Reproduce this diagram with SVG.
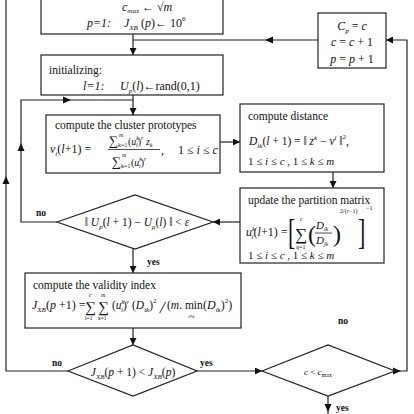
<svg xmlns="http://www.w3.org/2000/svg" width="414" height="414" viewBox="0 0 414 414">
<style>
text{font-family:"Liberation Serif","Times New Roman",serif;fill:#111;font-size:12px}
.i{font-style:italic}
.s{font-size:7px}
.u{font-size:6px}
.t{font-size:11.5px}
.lb{font-weight:bold;font-size:9.5px}
.box{fill:#fff;stroke:#222;stroke-width:1.2}
.ln{fill:none;stroke:#222;stroke-width:1.2}
.ah{fill:#111}
</style>
<defs>
<marker id="arr" viewBox="0 0 10 10" refX="10" refY="5" markerWidth="7" markerHeight="7" markerUnits="userSpaceOnUse" orient="auto"><path d="M0,0 L10,5 L0,10 z" fill="#111"/></marker>
</defs>
<rect width="414" height="414" fill="#fff"/>

<g id="connectors">
<line class="ln" x1="133" y1="34" x2="133" y2="55" marker-end="url(#arr)"/>
<polyline class="ln" points="318,40 133,40"/>
<polygon class="ah" points="265,40 273,36.5 273,43.5"/>
<polyline class="ln" points="395,371 407,371 407,40 386,40" marker-end="url(#arr)"/>
<polygon class="ah" points="401,371 393,367.5 393,374.5"/>
<line class="ln" x1="133" y1="95" x2="133" y2="115" marker-end="url(#arr)"/>
<polyline class="ln" points="57,222 21,222 21,100 133,100"/>
<polygon class="ah" points="21,143 17.5,151 24.5,151"/>
<polygon class="ah" points="71,100 63,96.5 63,103.5"/>
<line class="ln" x1="220" y1="142" x2="240" y2="142" marker-end="url(#arr)"/>
<line class="ln" x1="333" y1="172" x2="333" y2="188" marker-end="url(#arr)"/>
<line class="ln" x1="240" y1="222" x2="213" y2="222" marker-end="url(#arr)"/>
<line class="ln" x1="133" y1="249" x2="133" y2="273" marker-end="url(#arr)"/>
<line class="ln" x1="133" y1="328" x2="133" y2="345" marker-end="url(#arr)"/>
<polyline class="ln" points="68,371 6,371 6,0"/>
<polygon class="ah" points="6,176 2.5,184 9.5,184"/>
<line class="ln" x1="197" y1="371" x2="262" y2="371" marker-end="url(#arr)"/>
<line class="ln" x1="328" y1="396" x2="328" y2="414"/>
<polygon class="ah" points="328,412 324.5,404 331.5,404"/>
<text class="lb" x="36" y="216">no</text>
<text class="lb" x="147" y="265">yes</text>
<text class="lb" x="52" y="366">no</text>
<text class="lb" x="200" y="366">yes</text>
<text class="lb" x="338" y="324">no</text>
<text class="lb" x="336" y="411">yes</text>
</g>

<g id="init-top">
<rect class="box" x="41" y="-2" width="182" height="36"/>
<text x="122" y="11"><tspan class="i">c</tspan><tspan class="s i" dy="2">max</tspan><tspan dy="-2"> ← √</tspan><tspan class="i">m</tspan></text>
<text class="i" x="87" y="27">p=1:</text>
<text x="124" y="27"><tspan class="i">J</tspan><tspan class="s i" dy="2.5">XB</tspan><tspan dy="-2.5"> (</tspan><tspan class="i">p</tspan>)← 10<tspan class="s" dy="-6">6</tspan></text>
</g>

<g id="cp-box">
<rect class="box" x="318" y="13" width="68" height="55"/>
<text x="352" y="30" text-anchor="middle"><tspan class="i">C</tspan><tspan class="s i" dy="2.5">p</tspan><tspan dy="-2.5"> = </tspan><tspan class="i">c</tspan></text>
<text x="352" y="46" text-anchor="middle"><tspan class="i">c</tspan> = <tspan class="i">c</tspan> + 1</text>
<text x="352" y="63" text-anchor="middle"><tspan class="i">p</tspan> = <tspan class="i">p</tspan> + 1</text>
</g>

<g id="initializing">
<rect class="box" x="41" y="55" width="182" height="40"/>
<text class="t" x="49" y="74">initializing:</text>
<text class="i" x="83" y="90">l=1:</text>
<text x="120" y="90"><tspan class="i">U</tspan><tspan class="s i" dy="2.5">p</tspan><tspan dy="-2.5">(</tspan><tspan class="i">l</tspan>)←rand(0,1)</text>
</g>

<g id="cluster-prototypes">
<rect class="box" x="46" y="115" width="174" height="58"/>
<text class="t" x="55" y="128.5">compute the cluster prototypes</text>
<text x="50" y="153"><tspan class="i">v</tspan><tspan class="s i" dy="2.5">i</tspan><tspan dy="-2.5">(</tspan><tspan class="i">l</tspan>+1) =</text>
<line class="ln" x1="108" y1="149.5" x2="160" y2="149.5" style="stroke-width:0.8"/>
<text x="109" y="145" style="font-size:13px">∑</text>
<text class="u i" x="119" y="136.5">m</text><text class="u" x="118" y="147">k=1</text>
<text x="128" y="145" style="font-size:10px">(<tspan class="i">u</tspan><tspan class="u i" dy="-5">k</tspan><tspan class="u i" dx="-3" dy="7">i</tspan><tspan dy="-2">)</tspan><tspan class="u i" dy="-5">r</tspan><tspan dy="5"> </tspan><tspan class="i">z</tspan><tspan class="u i" dy="2">k</tspan></text>
<text x="112" y="166" style="font-size:13px">∑</text>
<text class="u i" x="122" y="157">m</text><text class="u" x="121" y="168">k=1</text>
<text x="131" y="166" style="font-size:10px">(<tspan class="i">u</tspan><tspan class="u i" dy="-5">k</tspan><tspan class="u i" dx="-3" dy="7">i</tspan><tspan dy="-2">)</tspan><tspan class="u i" dy="-5">r</tspan></text>
<text x="161" y="154">,</text>
<text x="178" y="154">1 ≤ <tspan class="i">i</tspan> ≤ <tspan class="i">c</tspan></text>
</g>

<g id="compute-distance">
<rect class="box" x="240" y="104" width="144" height="68"/>
<text class="t" x="248" y="120">compute distance</text>
<text x="249" y="145" style="font-size:11.5px"><tspan class="i">D</tspan><tspan class="s i" dy="3">ik</tspan><tspan dy="-3">(</tspan><tspan class="i">l</tspan> + 1) = ‖ <tspan class="i">z</tspan><tspan class="s i" dy="-5">k</tspan><tspan dy="5"> − </tspan><tspan class="i">v</tspan><tspan class="s i" dy="-5">i</tspan><tspan dy="5"> ‖</tspan><tspan class="s" dy="-6">2</tspan><tspan dy="6">,</tspan></text>
<text x="248" y="165" style="font-size:11px">1 ≤ <tspan class="i">i</tspan> ≤ <tspan class="i">c</tspan>  ,  1 ≤ <tspan class="i">k</tspan> ≤ <tspan class="i">m</tspan></text>
</g>

<g id="update-partition">
<rect class="box" x="240" y="188" width="144" height="75"/>
<text class="t" x="248" y="204">update the partition matrix</text>
<text x="246" y="236"><tspan class="i">u</tspan><tspan class="s i" dy="-5">k</tspan><tspan class="s i" dx="-3.5" dy="8">i</tspan><tspan dy="-3">(</tspan><tspan class="i">l</tspan>+1) =</text>
<text transform="translate(288,244) scale(1,1.65)" style="font-size:22px">[</text>
<text x="295" y="240" style="font-size:17px">∑</text>
<text class="u i" x="300" y="221">c</text>
<text class="u" x="296" y="249">q=1</text>
<text x="308" y="242" style="font-size:24px">(</text>
<line class="ln" x1="315" y1="233" x2="332" y2="233" style="stroke-width:0.8"/>
<text x="316" y="229" style="font-size:11px"><tspan class="i">D</tspan><tspan class="u i" dy="2">ik</tspan></text>
<text x="316" y="244" style="font-size:11px"><tspan class="i">D</tspan><tspan class="u i" dy="2">jk</tspan></text>
<text x="333" y="242" style="font-size:24px">)</text>
<text class="u" x="340" y="213">2/(<tspan class="i">r</tspan>−1)</text>
<text transform="translate(358,244) scale(1,1.65)" style="font-size:22px">]</text>
<text class="u" x="366" y="210">−1</text>
<text x="248" y="259" style="font-size:11px">1 ≤ <tspan class="i">i</tspan> ≤ <tspan class="i">c</tspan>  ,  1 ≤ <tspan class="i">k</tspan> ≤ <tspan class="i">m</tspan></text>
</g>

<g id="convergence-test">
<polygon class="box" points="57,222 135,195 213,222 135,249"/>
<text x="137" y="226" text-anchor="middle" style="font-size:11.5px">‖ <tspan class="i">U</tspan><tspan class="s i" dy="3">p</tspan><tspan dy="-3">(</tspan><tspan class="i">l</tspan> + 1) − <tspan class="i">U</tspan><tspan class="s i" dy="3">ρ</tspan><tspan dy="-3">(</tspan><tspan class="i">l</tspan>) ‖ &lt; <tspan class="i">ε</tspan></text>
</g>

<g id="validity-index">
<rect class="box" x="25" y="273" width="216" height="55"/>
<text class="t" x="33" y="289">compute the validity index</text>
<text x="32" y="309" style="font-size:12px"><tspan class="i">J</tspan><tspan class="s i" dy="3">XB</tspan><tspan dy="-3">(</tspan><tspan class="i">p</tspan> +1) =</text>
<text x="85" y="312" style="font-size:15px">∑</text><text class="u i" x="89" y="296.5">c</text><text class="u" x="85" y="320" style="font-size:5.5px">i=1</text>
<text x="98" y="312" style="font-size:15px">∑</text><text class="u i" x="101" y="296.5">m</text><text class="u" x="98" y="320" style="font-size:5.5px">k=1</text>
<text x="112" y="309" style="font-size:11.5px">(<tspan class="i">u</tspan><tspan class="u i" dy="-5">k</tspan><tspan class="u i" dx="-3" dy="8">i</tspan><tspan dy="-3">)</tspan><tspan class="u i" dy="-5">r</tspan><tspan dy="5">  (</tspan><tspan class="i">D</tspan><tspan class="s i" dy="2.5">ik</tspan><tspan dy="-2.5">)</tspan><tspan class="s" dy="-6">2</tspan></text>
<text x="160" y="313" style="font-size:17px" class="i">/</text>
<text x="167" y="309" style="font-size:11.5px">(<tspan class="i">m</tspan>. min</text><text class="u i" x="188" y="318" style="font-size:5px">i≠k</text>
<text x="203" y="309" style="font-size:12px">(<tspan class="i">D</tspan><tspan class="s i" dy="2.5">ik</tspan><tspan dy="-2.5">)</tspan><tspan class="s" dy="-6">2</tspan><tspan dy="6">)</tspan></text>
</g>

<g id="improvement-test">
<polygon class="box" points="68,371 133,345 197,371 133,396"/>
<text x="133" y="376" text-anchor="middle" style="font-size:11.5px"><tspan class="i">J</tspan><tspan class="s i" dy="3">XB</tspan><tspan dy="-3">(</tspan><tspan class="i">p</tspan> + 1) &lt; <tspan class="i">J</tspan><tspan class="s i" dy="3">XB</tspan><tspan dy="-3">(</tspan><tspan class="i">p</tspan>)</text>
</g>

<g id="cluster-count-test">
<polygon class="box" points="262,371 328,345 395,371 328,396"/>
<text x="318" y="375" text-anchor="middle" style="font-size:9px"><tspan class="i">c</tspan> &lt; <tspan class="i">c</tspan><tspan class="u" dy="2">max</tspan></text>
</g>
</svg>
